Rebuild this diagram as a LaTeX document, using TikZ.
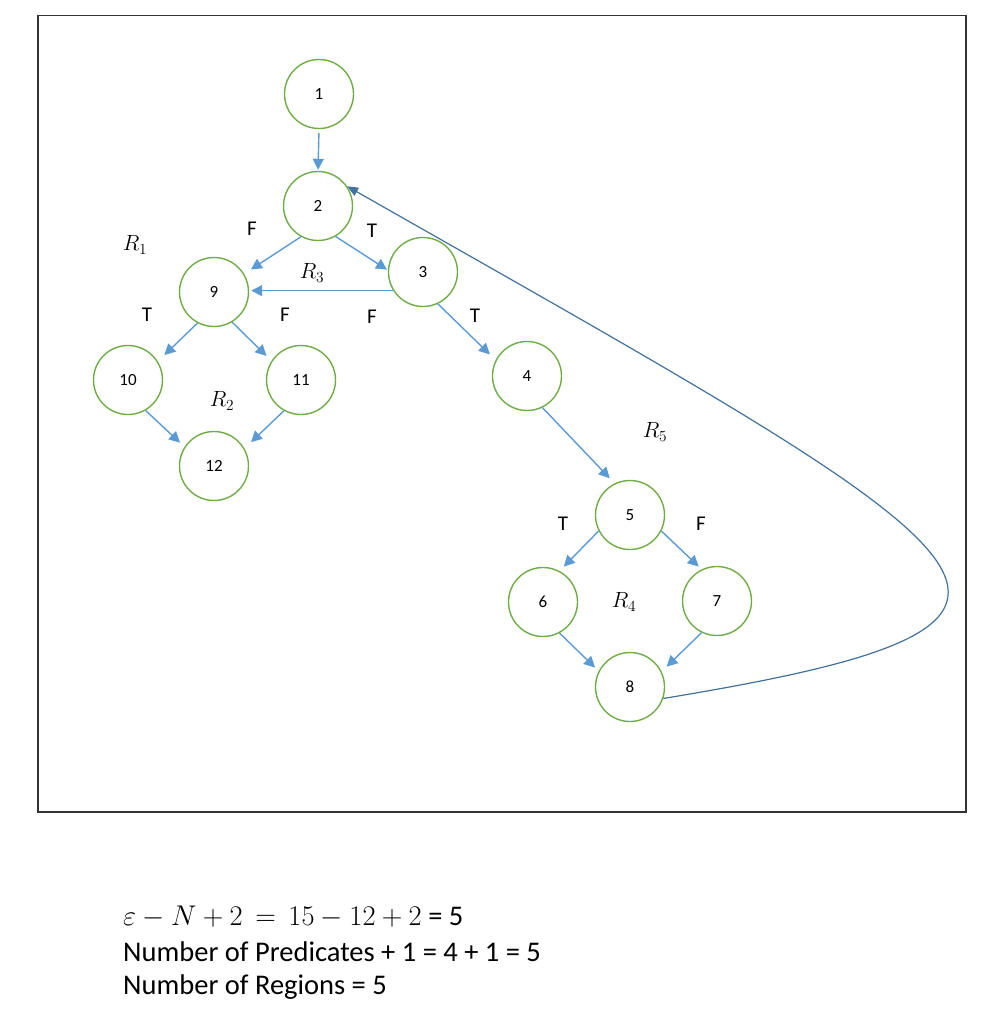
\RequirePackage{fix-cm}
\documentclass[tikz,border=0pt]{standalone}
\usepackage{amsmath}
\usepackage[no-math]{fontspec}
\setmainfont{Carlito}
\usepackage{tikz}
\usetikzlibrary{arrows.meta}
\definecolor{vgreen}{HTML}{70AD47}
\definecolor{eblue}{HTML}{5B9BD5}
\definecolor{bblue}{HTML}{41719C}
\newcommand{\vrad}{69pt}
\newcommand{\lw}{1.4pt}
\tikzset{
  vert/.style={circle, draw=vgreen, line width=\lw, minimum size=\vrad, inner sep=0pt,
    font=\fontsize{17}{19}\selectfont},
  edge/.style={draw=eblue, line width=\lw, -{Triangle[length=11pt,width=11pt]}},
  tf/.style={font=\fontsize{21}{24}\selectfont},
  reg/.style={font=\fontsize{22}{26}\selectfont},
  eqn/.style={anchor=west, inner sep=0pt, font=\fontsize{28.5}{32}\selectfont}
}

\begin{document}
\begin{tikzpicture}[x=1pt,y=-1pt]
  \useasboundingbox (0,0) rectangle (994,1024);
  \draw[line width=1.5pt, black!80] (38,15.5) rectangle (966,812);
  % vertices
  \foreach \n/\x/\y in {1/319/94, 2/318/206, 3/423/272, 9/214/292, 10/128/380,
      11/301/380, 12/214/466, 4/527/376, 5/630/515, 6/543/602, 7/717/601, 8/630/687}
    \node[vert] (v\n) at (\x,\y) {\n};
  % edges
  \draw[edge, shorten <=4pt, shorten >=1pt] (v1.south) -- (v2.north);
  \draw[edge, shorten >=8pt] (v2.241) -- (v9.31);
  \draw[edge, shorten >=1pt] (v2.300) -- (v3.177);
  \draw[edge, shorten >=2pt] (v3.212) -- (v3.212 -| v9.east);
  \draw[edge, shorten >=9pt] (v9.242) -- (v10.32);
  \draw[edge, shorten >=7pt] (v9.301) -- (v11.147);
  \draw[edge, shorten >=6pt] (v10.300) -- (v12.147);
  \draw[edge, shorten >=9pt] (v11.241) -- (v12.30);
  \draw[edge, shorten >=8pt] (v3.295) -- (v4.153);
  \draw[edge, shorten >=7pt] (v4.296) -- (v5.116);
  \draw[edge, shorten >=6pt] (v5.207) -- (v6.62);
  \draw[edge, shorten >=4pt] (v5.333) -- (v7.116);
  \draw[edge, shorten >=5pt] (v6.298) -- (v8.153);
  \draw[edge, shorten >=7pt] (v7.244) -- (v8.26);
  \draw[draw=bblue, line width=1.2pt, -{Triangle[length=11pt,width=9pt]}]
    (v8.341) .. controls (1135,621) and (1013,565) .. (v2.34);
  % branch labels
  \node[tf] (f2) at (252,229) {F};
  \node[tf] (t2) at (372,231) {T};
  \node[tf] (t9) at (147,315) {T};
  \node[tf] (f9) at (285,315) {F};
  \node[tf] (f3) at (372,317) {F};
  \node[tf] (t3) at (475,316) {T};
  \node[tf] (t5) at (563,524) {T};
  \node[tf] (f5) at (701,524) {F};
  % regions
  \node[reg] (r1) at (135,245) {$R_1$};
  \node[reg] (r2) at (222,401) {$R_2$};
  \node[reg] (r3) at (312,273) {$R_3$};
  \node[reg] (r4) at (624,602) {$R_4$};
  \node[reg] (r5) at (655,432) {$R_5$};
  % formulas
  \node[eqn] (eq1) at (123,917) {$\varepsilon - N + 2 \,=\, 15 - 12 + 2$ = 5};
  \node[eqn] (eq2) at (123,952) {Number of Predicates + 1 = 4 + 1 = 5};
  \node[eqn] (eq3) at (123,987) {Number of Regions = 5};
\end{tikzpicture}
\end{document}
